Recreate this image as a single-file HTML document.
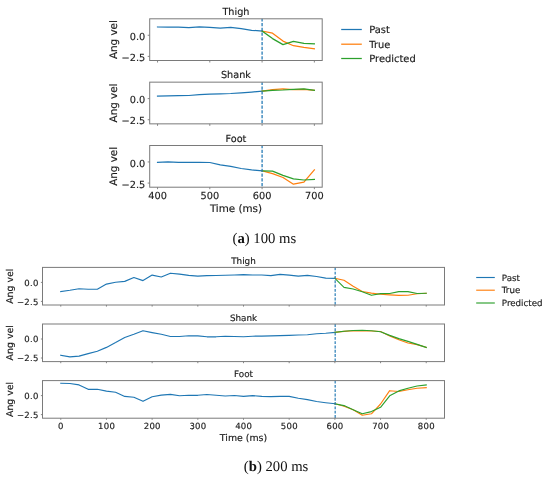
<!DOCTYPE html><html><head><meta charset="utf-8"><style>html,body{margin:0;padding:0;background:#fff;width:550px;height:479px;overflow:hidden}svg{display:block}text{text-rendering:geometricPrecision;font-family:"DejaVu Sans","Liberation Sans",sans-serif;fill:#1a1a1a;stroke:#1a1a1a;stroke-width:0.15px}.cap{font-family:"Liberation Serif",serif;fill:#111;stroke:none}</style></head><body>
<svg width="550" height="479" viewBox="0 0 550 479">
<rect width="550" height="479" fill="#fff"/>
<polyline points="157.54,27 168,27.1 178.45,27.1 188.9,27.7 199.36,26.8 209.81,27.3 220.27,28.1 230.72,27.4 241.18,28.6 251.63,30.3 262.09,31" fill="none" stroke="#1f77b4" stroke-width="1.25" stroke-linejoin="round" stroke-linecap="square"/>
<polyline points="262.09,31 272.54,33.2 283,41.1 293.45,45.7 303.9,47.4 314.36,48.7" fill="none" stroke="#ff7f0e" stroke-width="1.25" stroke-linejoin="round" stroke-linecap="square"/>
<polyline points="262.09,31 272.54,38.6 283,44.6 293.45,41.4 303.9,43.3 314.36,43.9" fill="none" stroke="#2ca02c" stroke-width="1.25" stroke-linejoin="round" stroke-linecap="square"/>
<line x1="262.09" y1="18.8" x2="262.09" y2="60.5" stroke="#1f77b4" stroke-width="1.25" stroke-dasharray="3.3 1.45" stroke-dashoffset="0.5"/>
<rect x="149.7" y="18.8" width="172.5" height="41.7" fill="none" stroke="#7a7a7a" stroke-width="1.0"/>
<line x1="147.7" y1="35.25" x2="149.7" y2="35.25" stroke="#7a7a7a" stroke-width="0.9"/>
<text x="145.3" y="39.84" font-size="9.75" text-anchor="end" >0.0</text>
<line x1="147.7" y1="56.38" x2="149.7" y2="56.38" stroke="#7a7a7a" stroke-width="0.9"/>
<text x="145.3" y="60.96" font-size="9.75" text-anchor="end" >−2.5</text>
<line x1="157.54" y1="60.5" x2="157.54" y2="62.5" stroke="#7a7a7a" stroke-width="0.9"/>
<line x1="209.81" y1="60.5" x2="209.81" y2="62.5" stroke="#7a7a7a" stroke-width="0.9"/>
<line x1="262.09" y1="60.5" x2="262.09" y2="62.5" stroke="#7a7a7a" stroke-width="0.9"/>
<line x1="314.36" y1="60.5" x2="314.36" y2="62.5" stroke="#7a7a7a" stroke-width="0.9"/>
<text x="235.95" y="15" font-size="9.7" text-anchor="middle" >Thigh</text>
<text x="0" y="0" font-size="10.35" text-anchor="middle" transform="translate(116.7,39.65) rotate(-90)">Ang vel</text>
<polyline points="157.54,96 168,95.8 178.45,95.6 188.9,95.5 199.36,94.7 209.81,94.2 220.27,93.9 230.72,93.5 241.18,92.8 251.63,92.1 262.09,91.2" fill="none" stroke="#1f77b4" stroke-width="1.25" stroke-linejoin="round" stroke-linecap="square"/>
<polyline points="262.09,91.2 272.54,89.6 283,88.9 293.45,89.6 303.9,89.3 314.36,90.4" fill="none" stroke="#ff7f0e" stroke-width="1.25" stroke-linejoin="round" stroke-linecap="square"/>
<polyline points="262.09,91.2 272.54,90.4 283,90 293.45,89.3 303.9,88.9 314.36,90.4" fill="none" stroke="#2ca02c" stroke-width="1.25" stroke-linejoin="round" stroke-linecap="square"/>
<line x1="262.09" y1="82.15" x2="262.09" y2="123.85" stroke="#1f77b4" stroke-width="1.25" stroke-dasharray="3.3 1.45" stroke-dashoffset="0.5"/>
<rect x="149.7" y="82.15" width="172.5" height="41.7" fill="none" stroke="#7a7a7a" stroke-width="1.0"/>
<line x1="147.7" y1="98.6" x2="149.7" y2="98.6" stroke="#7a7a7a" stroke-width="0.9"/>
<text x="145.3" y="103.19" font-size="9.75" text-anchor="end" >0.0</text>
<line x1="147.7" y1="119.73" x2="149.7" y2="119.73" stroke="#7a7a7a" stroke-width="0.9"/>
<text x="145.3" y="124.32" font-size="9.75" text-anchor="end" >−2.5</text>
<line x1="157.54" y1="123.85" x2="157.54" y2="125.85" stroke="#7a7a7a" stroke-width="0.9"/>
<line x1="209.81" y1="123.85" x2="209.81" y2="125.85" stroke="#7a7a7a" stroke-width="0.9"/>
<line x1="262.09" y1="123.85" x2="262.09" y2="125.85" stroke="#7a7a7a" stroke-width="0.9"/>
<line x1="314.36" y1="123.85" x2="314.36" y2="125.85" stroke="#7a7a7a" stroke-width="0.9"/>
<text x="235.95" y="78.35" font-size="9.7" text-anchor="middle" >Shank</text>
<text x="0" y="0" font-size="10.35" text-anchor="middle" transform="translate(116.7,103) rotate(-90)">Ang vel</text>
<polyline points="157.54,162.3 168,161.9 178.45,162.3 188.9,162.4 199.36,162.4 209.81,162.5 220.27,164.9 230.72,166.4 241.18,168.5 251.63,169.9 262.09,170.9" fill="none" stroke="#1f77b4" stroke-width="1.25" stroke-linejoin="round" stroke-linecap="square"/>
<polyline points="262.09,170.9 272.54,173.6 283,177.5 293.45,184.2 303.9,182.1 314.36,169.8" fill="none" stroke="#ff7f0e" stroke-width="1.25" stroke-linejoin="round" stroke-linecap="square"/>
<polyline points="262.09,170.9 272.54,171.2 283,175.3 293.45,178.9 303.9,180 314.36,179.4" fill="none" stroke="#2ca02c" stroke-width="1.25" stroke-linejoin="round" stroke-linecap="square"/>
<line x1="262.09" y1="145.5" x2="262.09" y2="187.2" stroke="#1f77b4" stroke-width="1.25" stroke-dasharray="3.3 1.45" stroke-dashoffset="0.5"/>
<rect x="149.7" y="145.5" width="172.5" height="41.7" fill="none" stroke="#7a7a7a" stroke-width="1.0"/>
<line x1="147.7" y1="161.95" x2="149.7" y2="161.95" stroke="#7a7a7a" stroke-width="0.9"/>
<text x="145.3" y="166.54" font-size="9.75" text-anchor="end" >0.0</text>
<line x1="147.7" y1="183.07" x2="149.7" y2="183.07" stroke="#7a7a7a" stroke-width="0.9"/>
<text x="145.3" y="187.66" font-size="9.75" text-anchor="end" >−2.5</text>
<line x1="157.54" y1="187.2" x2="157.54" y2="189.2" stroke="#7a7a7a" stroke-width="0.9"/>
<line x1="209.81" y1="187.2" x2="209.81" y2="189.2" stroke="#7a7a7a" stroke-width="0.9"/>
<line x1="262.09" y1="187.2" x2="262.09" y2="189.2" stroke="#7a7a7a" stroke-width="0.9"/>
<line x1="314.36" y1="187.2" x2="314.36" y2="189.2" stroke="#7a7a7a" stroke-width="0.9"/>
<text x="235.95" y="141.7" font-size="9.7" text-anchor="middle" >Foot</text>
<text x="0" y="0" font-size="10.35" text-anchor="middle" transform="translate(116.7,166.35) rotate(-90)">Ang vel</text>
<text x="157.54" y="199" font-size="9.75" text-anchor="middle" >400</text>
<text x="209.81" y="199" font-size="9.75" text-anchor="middle" >500</text>
<text x="262.09" y="199" font-size="9.75" text-anchor="middle" >600</text>
<text x="314.36" y="199" font-size="9.75" text-anchor="middle" >700</text>
<text x="235.95" y="211.6" font-size="10.35" text-anchor="middle" >Time (ms)</text>
<line x1="341.82" y1="29.5" x2="361.18" y2="29.5" stroke="#1f77b4" stroke-width="1.25" stroke-linecap="square"/>
<text x="369.3" y="33.2" font-size="9.9" text-anchor="start" >Past</text>
<line x1="341.82" y1="44.2" x2="361.18" y2="44.2" stroke="#ff7f0e" stroke-width="1.25" stroke-linecap="square"/>
<text x="369.3" y="47.9" font-size="9.9" text-anchor="start" >True</text>
<line x1="341.82" y1="58.5" x2="361.18" y2="58.5" stroke="#2ca02c" stroke-width="1.25" stroke-linecap="square"/>
<text x="369.3" y="62.2" font-size="9.9" text-anchor="start" >Predicted</text>
<polyline points="60.77,291.5 69.91,290.3 79.05,288.7 88.18,289.2 97.32,289.2 106.45,284.1 115.59,282.2 124.73,281.4 133.86,277.5 143,280.6 152.14,275.1 161.27,277 170.41,273.2 179.55,274.1 188.68,275.4 197.82,276.1 206.95,275.6 216.09,275.5 225.23,275.2 234.36,275 243.5,274.6 252.64,275 261.77,275 270.91,275.6 280.05,274.4 289.18,275.1 298.32,276.1 307.45,275.4 316.59,276.5 325.73,278.1 334.86,278.3" fill="none" stroke="#1f77b4" stroke-width="1.15" stroke-linejoin="round" stroke-linecap="square"/>
<polyline points="334.86,278.3 344,280.3 353.14,286.3 362.27,291.5 371.41,293.1 380.55,294.2 389.68,294.9 398.82,295.4 407.95,295.2 417.09,293.8 426.23,293.3" fill="none" stroke="#ff7f0e" stroke-width="1.15" stroke-linejoin="round" stroke-linecap="square"/>
<polyline points="334.86,278.3 344,287.4 353.14,289 362.27,291.7 371.41,295.3 380.55,293.6 389.68,293.5 398.82,291.6 407.95,291.6 417.09,293.5 426.23,293.3" fill="none" stroke="#2ca02c" stroke-width="1.15" stroke-linejoin="round" stroke-linecap="square"/>
<line x1="335.16" y1="267.4" x2="335.16" y2="305" stroke="#1f77b4" stroke-width="1.15" stroke-dasharray="2.9 1.4" stroke-dashoffset="0"/>
<rect x="42.5" y="267.4" width="402" height="37.6" fill="none" stroke="#7a7a7a" stroke-width="1.0"/>
<line x1="40.9" y1="282.4" x2="42.5" y2="282.4" stroke="#7a7a7a" stroke-width="0.9"/>
<text x="38.55" y="285.74" font-size="8.5" text-anchor="end"  letter-spacing="0.25">0.0</text>
<line x1="40.9" y1="301.4" x2="42.5" y2="301.4" stroke="#7a7a7a" stroke-width="0.9"/>
<text x="38.55" y="304.74" font-size="8.5" text-anchor="end"  letter-spacing="0.25">−2.5</text>
<line x1="60.77" y1="305" x2="60.77" y2="306.6" stroke="#7a7a7a" stroke-width="0.9"/>
<line x1="106.45" y1="305" x2="106.45" y2="306.6" stroke="#7a7a7a" stroke-width="0.9"/>
<line x1="152.14" y1="305" x2="152.14" y2="306.6" stroke="#7a7a7a" stroke-width="0.9"/>
<line x1="197.82" y1="305" x2="197.82" y2="306.6" stroke="#7a7a7a" stroke-width="0.9"/>
<line x1="243.5" y1="305" x2="243.5" y2="306.6" stroke="#7a7a7a" stroke-width="0.9"/>
<line x1="289.18" y1="305" x2="289.18" y2="306.6" stroke="#7a7a7a" stroke-width="0.9"/>
<line x1="334.86" y1="305" x2="334.86" y2="306.6" stroke="#7a7a7a" stroke-width="0.9"/>
<line x1="380.55" y1="305" x2="380.55" y2="306.6" stroke="#7a7a7a" stroke-width="0.9"/>
<line x1="426.23" y1="305" x2="426.23" y2="306.6" stroke="#7a7a7a" stroke-width="0.9"/>
<text x="243.5" y="264" font-size="8.8" text-anchor="middle" >Thigh</text>
<text x="0" y="0" font-size="9.4" text-anchor="middle" transform="translate(13.2,286.2) rotate(-90)">Ang vel</text>
<polyline points="60.77,355.2 69.91,356.9 79.05,356.1 88.18,353.6 97.32,351.2 106.45,347.4 115.59,342.6 124.73,337.5 133.86,334.3 143,330.7 152.14,332.6 161.27,334.3 170.41,336.5 179.55,336.5 188.68,335.7 197.82,335.9 206.95,336.8 216.09,336.8 225.23,336.2 234.36,336.5 243.5,336.7 252.64,336.2 261.77,336.1 270.91,335.9 280.05,335.6 289.18,335.4 298.32,335 307.45,334.8 316.59,333.7 325.73,333.2 334.86,332.4" fill="none" stroke="#1f77b4" stroke-width="1.15" stroke-linejoin="round" stroke-linecap="square"/>
<polyline points="334.86,332.4 344,331.4 353.14,330.8 362.27,331 371.41,331 380.55,331.5 389.68,335.9 398.82,339.7 407.95,343 417.09,344.6 426.23,347.4" fill="none" stroke="#ff7f0e" stroke-width="1.15" stroke-linejoin="round" stroke-linecap="square"/>
<polyline points="334.86,332.4 344,331.2 353.14,330.5 362.27,330.2 371.41,330.7 380.55,331.8 389.68,335.4 398.82,338.6 407.95,341.4 417.09,344.4 426.23,347.4" fill="none" stroke="#2ca02c" stroke-width="1.15" stroke-linejoin="round" stroke-linecap="square"/>
<line x1="335.16" y1="324" x2="335.16" y2="361.6" stroke="#1f77b4" stroke-width="1.15" stroke-dasharray="2.9 1.4" stroke-dashoffset="0"/>
<rect x="42.5" y="324" width="402" height="37.6" fill="none" stroke="#7a7a7a" stroke-width="1.0"/>
<line x1="40.9" y1="339" x2="42.5" y2="339" stroke="#7a7a7a" stroke-width="0.9"/>
<text x="38.55" y="342.34" font-size="8.5" text-anchor="end"  letter-spacing="0.25">0.0</text>
<line x1="40.9" y1="358" x2="42.5" y2="358" stroke="#7a7a7a" stroke-width="0.9"/>
<text x="38.55" y="361.34" font-size="8.5" text-anchor="end"  letter-spacing="0.25">−2.5</text>
<line x1="60.77" y1="361.6" x2="60.77" y2="363.2" stroke="#7a7a7a" stroke-width="0.9"/>
<line x1="106.45" y1="361.6" x2="106.45" y2="363.2" stroke="#7a7a7a" stroke-width="0.9"/>
<line x1="152.14" y1="361.6" x2="152.14" y2="363.2" stroke="#7a7a7a" stroke-width="0.9"/>
<line x1="197.82" y1="361.6" x2="197.82" y2="363.2" stroke="#7a7a7a" stroke-width="0.9"/>
<line x1="243.5" y1="361.6" x2="243.5" y2="363.2" stroke="#7a7a7a" stroke-width="0.9"/>
<line x1="289.18" y1="361.6" x2="289.18" y2="363.2" stroke="#7a7a7a" stroke-width="0.9"/>
<line x1="334.86" y1="361.6" x2="334.86" y2="363.2" stroke="#7a7a7a" stroke-width="0.9"/>
<line x1="380.55" y1="361.6" x2="380.55" y2="363.2" stroke="#7a7a7a" stroke-width="0.9"/>
<line x1="426.23" y1="361.6" x2="426.23" y2="363.2" stroke="#7a7a7a" stroke-width="0.9"/>
<text x="243.5" y="320.6" font-size="8.8" text-anchor="middle" >Shank</text>
<text x="0" y="0" font-size="9.4" text-anchor="middle" transform="translate(13.2,342.8) rotate(-90)">Ang vel</text>
<polyline points="60.77,383.3 69.91,383.5 79.05,384.9 88.18,389.3 97.32,389.3 106.45,391.1 115.59,392.2 124.73,396.4 133.86,397.2 143,401.3 152.14,396.7 161.27,395.1 170.41,394.4 179.55,395.8 188.68,395.3 197.82,395.3 206.95,394.5 216.09,395.3 225.23,396 234.36,395.5 243.5,396.4 252.64,395.6 261.77,396.4 270.91,396.6 280.05,396.4 289.18,396.4 298.32,398.2 307.45,399.6 316.59,401.5 325.73,402.7 334.86,403.7" fill="none" stroke="#1f77b4" stroke-width="1.15" stroke-linejoin="round" stroke-linecap="square"/>
<polyline points="334.86,403.7 344,406.2 353.14,409.7 362.27,415.2 371.41,413.8 380.55,404 389.68,390.7 398.82,391.5 407.95,389.8 417.09,388.2 426.23,387.6" fill="none" stroke="#ff7f0e" stroke-width="1.15" stroke-linejoin="round" stroke-linecap="square"/>
<polyline points="334.86,403.7 344,405.6 353.14,409.7 362.27,413.8 371.41,411.6 380.55,407.3 389.68,395.8 398.82,390.9 407.95,388.2 417.09,386 426.23,384.9" fill="none" stroke="#2ca02c" stroke-width="1.15" stroke-linejoin="round" stroke-linecap="square"/>
<line x1="335.16" y1="380.6" x2="335.16" y2="418.2" stroke="#1f77b4" stroke-width="1.15" stroke-dasharray="2.9 1.4" stroke-dashoffset="0"/>
<rect x="42.5" y="380.6" width="402" height="37.6" fill="none" stroke="#7a7a7a" stroke-width="1.0"/>
<line x1="40.9" y1="395.6" x2="42.5" y2="395.6" stroke="#7a7a7a" stroke-width="0.9"/>
<text x="38.55" y="398.94" font-size="8.5" text-anchor="end"  letter-spacing="0.25">0.0</text>
<line x1="40.9" y1="414.6" x2="42.5" y2="414.6" stroke="#7a7a7a" stroke-width="0.9"/>
<text x="38.55" y="417.94" font-size="8.5" text-anchor="end"  letter-spacing="0.25">−2.5</text>
<line x1="60.77" y1="418.2" x2="60.77" y2="419.8" stroke="#7a7a7a" stroke-width="0.9"/>
<line x1="106.45" y1="418.2" x2="106.45" y2="419.8" stroke="#7a7a7a" stroke-width="0.9"/>
<line x1="152.14" y1="418.2" x2="152.14" y2="419.8" stroke="#7a7a7a" stroke-width="0.9"/>
<line x1="197.82" y1="418.2" x2="197.82" y2="419.8" stroke="#7a7a7a" stroke-width="0.9"/>
<line x1="243.5" y1="418.2" x2="243.5" y2="419.8" stroke="#7a7a7a" stroke-width="0.9"/>
<line x1="289.18" y1="418.2" x2="289.18" y2="419.8" stroke="#7a7a7a" stroke-width="0.9"/>
<line x1="334.86" y1="418.2" x2="334.86" y2="419.8" stroke="#7a7a7a" stroke-width="0.9"/>
<line x1="380.55" y1="418.2" x2="380.55" y2="419.8" stroke="#7a7a7a" stroke-width="0.9"/>
<line x1="426.23" y1="418.2" x2="426.23" y2="419.8" stroke="#7a7a7a" stroke-width="0.9"/>
<text x="243.5" y="377.2" font-size="8.8" text-anchor="middle" >Foot</text>
<text x="0" y="0" font-size="9.4" text-anchor="middle" transform="translate(13.2,399.4) rotate(-90)">Ang vel</text>
<text x="60.9" y="428.8" font-size="8.5" text-anchor="middle"  letter-spacing="0.25">0</text>
<text x="106.58" y="428.8" font-size="8.5" text-anchor="middle"  letter-spacing="0.25">100</text>
<text x="152.26" y="428.8" font-size="8.5" text-anchor="middle"  letter-spacing="0.25">200</text>
<text x="197.94" y="428.8" font-size="8.5" text-anchor="middle"  letter-spacing="0.25">300</text>
<text x="243.62" y="428.8" font-size="8.5" text-anchor="middle"  letter-spacing="0.25">400</text>
<text x="289.31" y="428.8" font-size="8.5" text-anchor="middle"  letter-spacing="0.25">500</text>
<text x="334.99" y="428.8" font-size="8.5" text-anchor="middle"  letter-spacing="0.25">600</text>
<text x="380.67" y="428.8" font-size="8.5" text-anchor="middle"  letter-spacing="0.25">700</text>
<text x="426.35" y="428.8" font-size="8.5" text-anchor="middle"  letter-spacing="0.25">800</text>
<text x="243.5" y="440.6" font-size="9.4" text-anchor="middle" >Time (ms)</text>
<line x1="476.77" y1="277.5" x2="494.23" y2="277.5" stroke="#1f77b4" stroke-width="1.15" stroke-linecap="square"/>
<text x="501.8" y="280.6" font-size="8.7" text-anchor="start" >Past</text>
<line x1="476.77" y1="290.2" x2="494.23" y2="290.2" stroke="#ff7f0e" stroke-width="1.15" stroke-linecap="square"/>
<text x="501.8" y="293.3" font-size="8.7" text-anchor="start" >True</text>
<line x1="476.77" y1="303.0" x2="494.23" y2="303.0" stroke="#2ca02c" stroke-width="1.15" stroke-linecap="square"/>
<text x="501.8" y="306.1" font-size="8.7" text-anchor="start" >Predicted</text>
<text class="cap" x="232.5" y="242.6" font-size="14.7">(<tspan font-weight="bold">a</tspan>) 100 ms</text>
<text class="cap" x="243.8" y="470.6" font-size="14.7">(<tspan font-weight="bold">b</tspan>) 200 ms</text>
</svg></body></html>
